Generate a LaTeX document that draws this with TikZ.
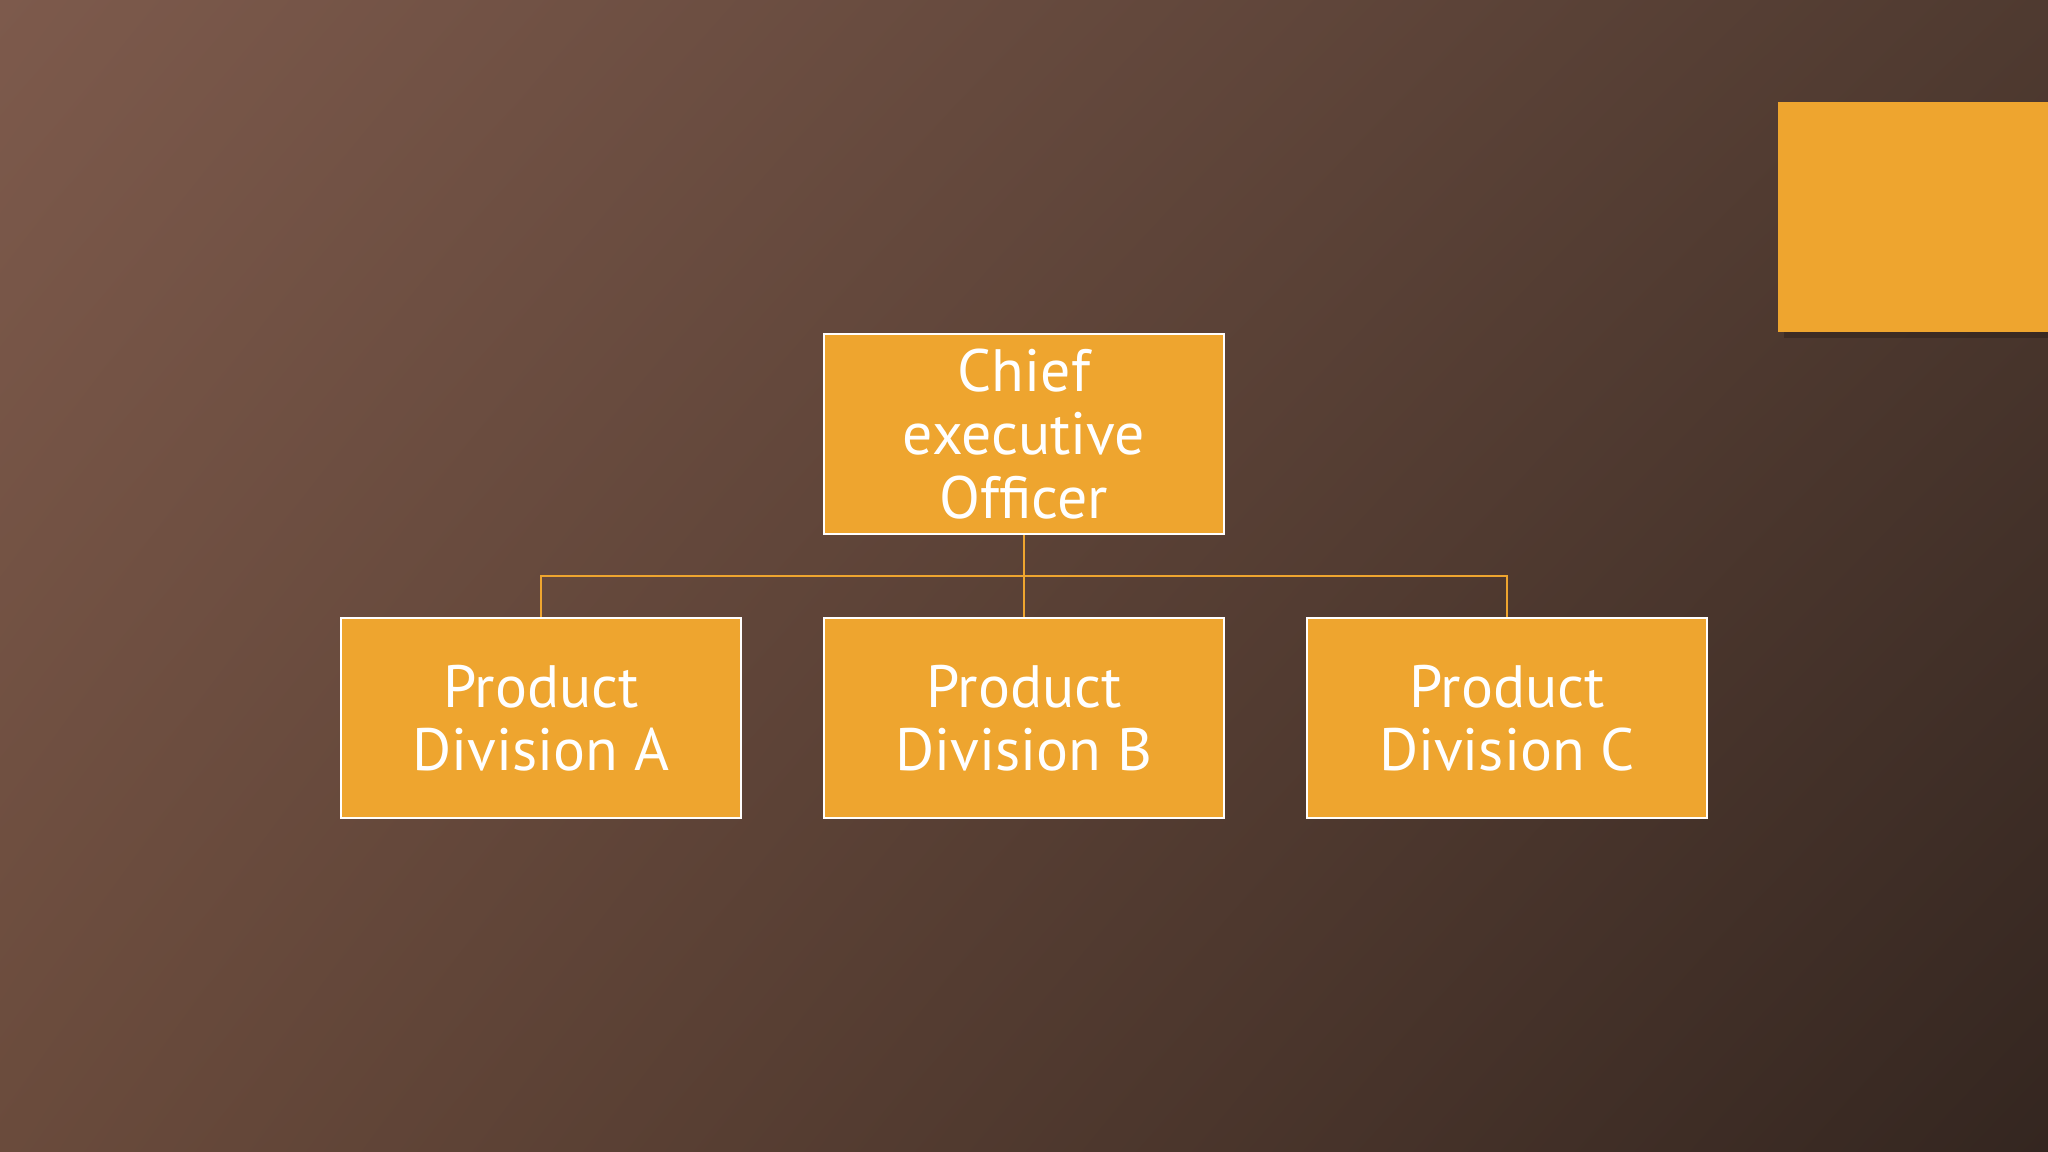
\documentclass[tikz,border=0pt]{standalone}
\usepackage{fontspec}
\setmainfont{PT Sans}
\usetikzlibrary{positioning,shadings}
\definecolor{deckorange}{HTML}{EEA52F}
\definecolor{bgtl}{HTML}{7D5A4C}
\definecolor{bgtr}{HTML}{4F3A30}
\definecolor{bgbl}{HTML}{6A4B3C}
\definecolor{bgbr}{HTML}{342620}
\begin{document}
\begin{tikzpicture}[
    x=0.01cm, y=0.01cm,
    unit/.style={draw=white, line width=0.6pt, fill=deckorange, minimum width=4cm, minimum height=2cm, align=center, text=white, font=\fontsize{17}{18}\selectfont, inner sep=0pt},
    link/.style={draw=deckorange, line width=0.8pt}
]
    % background
    \shade[upper left=bgtl, upper right=bgtr, lower left=bgbl, lower right=bgbr] (0,0) rectangle (2048,1152);
    \useasboundingbox (0,0) rectangle (2048,1152);

    % corner block
    \fill[black, opacity=0.2] (1784,814) rectangle (2048,1044);
    \fill[deckorange] (1778,820) rectangle (2048,1050);

    \node[unit] (ceo) at (1024,718) {Chief\\executive\\Officer};
    \node[unit] (divb) at (1024,434) {Product\\Division B};
    \node[unit] (diva) at (541,434) {Product\\Division A};
    \node[unit] (divc) at (1507,434) {Product\\Division C};

    % reporting lines
    \coordinate (bus) at (1024,576);
    \draw[link] (ceo.south) -- (divb.north);
    \draw[link] (diva.north) |- (bus) -| (divc.north);
\end{tikzpicture}
\end{document}
